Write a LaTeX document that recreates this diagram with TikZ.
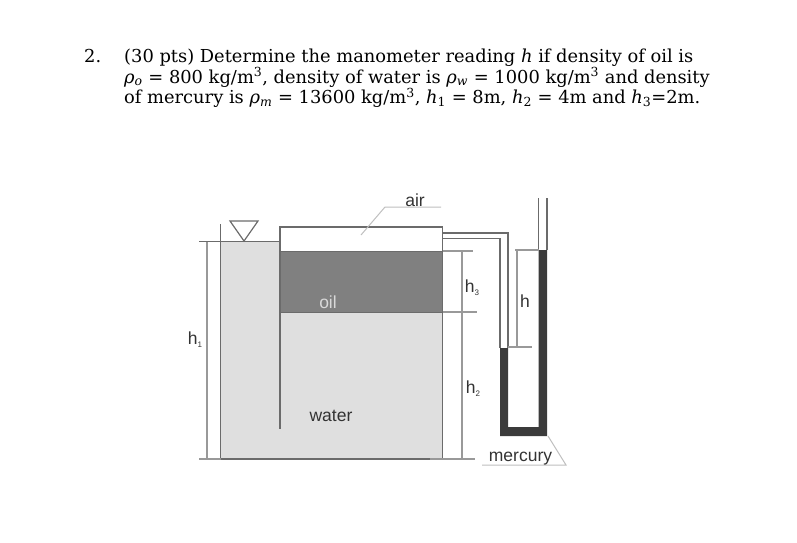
\documentclass[tikz,border=0pt]{standalone}
\usepackage{fontspec}
\setmainfont{DejaVu Serif}
\newfontfamily\labelfont{Liberation Sans}
\usetikzlibrary{positioning}
\definecolor{waterfill}{gray}{0.875}
\definecolor{oilfill}{gray}{0.5}
\definecolor{mercuryfill}{gray}{0.23}
\definecolor{wallgray}{gray}{0.42}
\definecolor{dimgray}{gray}{0.6}
\newcommand{\qty}[2]{\textit{#1}\textsubscript{#2}}
\newcommand{\hsub}[1]{h\raisebox{-3pt}{\fontsize{8}{9}\selectfont #1}}
\begin{document}
\begin{tikzpicture}[x=1pt,y=-1pt,
				wall/.style={draw=wallgray,line width=1.6pt},
				dimline/.style={draw=dimgray,line width=1.2pt},
				lead/.style={draw=black!25,line width=1pt},
				question/.style={anchor=base west,inner sep=0pt,font=\fontsize{17.85}{20}\selectfont},
				tag/.style={inner sep=0pt,text=black!80,font=\labelfont\fontsize{17.5}{18}\selectfont}]
				\useasboundingbox (0,0) rectangle (797,542);
				% question text
				\node[question] (num) at (84,62.5) {2.};
				\node[question] (lineA) at (124,62.5) {(30 pts) Determine the manometer reading \textit{h} if density of oil is};
				\node[question] (lineB) at (124,83) {\qty{ρ}{\textit{o}} = 800 kg/m\textsuperscript{3}, density of water is \qty{ρ}{\textit{w}} = 1000 kg/m\textsuperscript{3} and density};
				\node[question] (lineC) at (124,103.5) {of mercury is \qty{ρ}{\textit{m}} = 13600 kg/m\textsuperscript{3}, \qty{h}{1} = 8m, \qty{h}{2} = 4m and \qty{h}{3}=2m.};
				% liquids
				\fill[waterfill] (220.5,241.5) rectangle (280,459);
				\fill[waterfill] (280,312) rectangle (442.5,459);
				\fill[oilfill] (280,251) rectangle (442.5,312);
				% mercury
				\fill[mercuryfill] (500,348) -- (500,436) -- (547,436) -- (547,250) -- (538.5,250)
					-- (538.5,427) -- (508,427) -- (508,348) -- cycle;
				% tank
				\draw[wall] (220.5,224) -- (220.5,459) -- (442.5,459) -- (442.5,227) -- (280,227) -- (280,429);
				\draw[wall,line width=1pt] (280,251) -- (442.5,251);
				\draw[wall,line width=1pt] (280,312) -- (442.5,312);
				% pipe
				\draw[wall,line width=1.2pt] (442.5,227) -- (442.5,233) -- (508,233) -- (508,348);
				\draw[wall,line width=1.2pt] (442.5,238.5) -- (500,238.5) -- (500,348);
				\draw[wall,line width=1.2pt] (538.5,198) -- (538.5,250);
				\draw[wall,line width=1.2pt] (547,198) -- (547,250);
				% surface mark
				\draw[wall,line width=1.2pt] (230,221) -- (258,221) -- (244,241) -- cycle;
				\draw[wall,line width=1.2pt] (199,241.5) -- (280,241.5);
				% dimensions
				\draw[dimline] (199,459) -- (220.5,459);
				\draw[dimline] (207,241.5) -- (207,459);
				\draw[dimline] (442.5,251) -- (473,251);
				\draw[dimline] (442.5,312) -- (477,312);
				\draw[dimline] (430,459) -- (475,459);
				\draw[dimline] (462,251) -- (462,459);
				\draw[dimline] (515,250) -- (538.5,250);
				\draw[dimline] (508,347) -- (532,347);
				\draw[dimline] (517,250) -- (517,347);
				% leaders
				\draw[lead] (361,235) -- (385,207) -- (441,207);
				\draw[lead] (548,436) -- (566,465) -- (482,465);
				% labels
				\node[tag] (air) at (415,200) {air};
				\node[tag,text=black!15] (oil) at (328,302) {oil};
				\node[tag] (water) at (331,415.5) {water};
				\node[tag] (mercury) at (520.5,459) {mercury};
				\node[tag] (hone) at (195,340) {\hsub{1}};
				\node[tag] (htwo) at (473,389) {\hsub{2}};
				\node[tag] (hthree) at (472,288) {\hsub{3}};
				\node[tag] (hread) at (525,301) {h};
			\end{tikzpicture}
\end{document}
